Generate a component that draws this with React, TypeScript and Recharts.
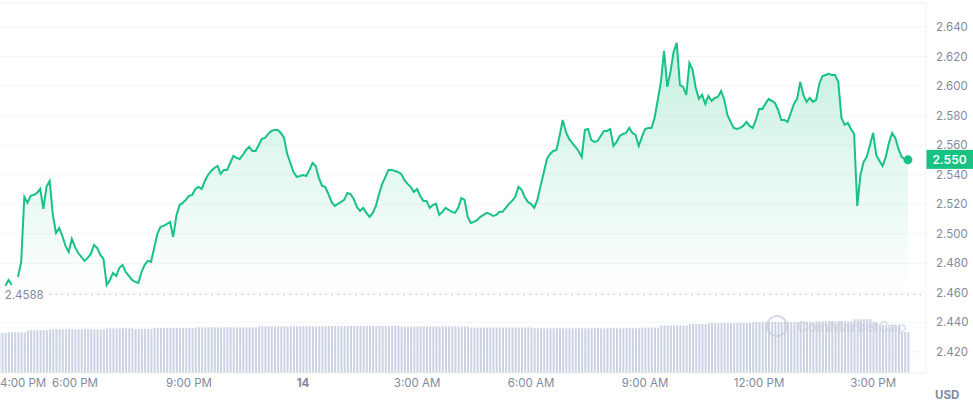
import {
  Area,
  Bar,
  CartesianGrid,
  ComposedChart,
  ReferenceDot,
  ReferenceLine,
  XAxis,
  YAxis,
} from "recharts";

const GREEN = "#18c283";
const GREY = "#808a9d";
const FONT = "Inter, 'Noto Sans', sans-serif";

const BASELINE = 2.4588;
const LAST_PRICE = 2.55;

// one value every 5 minutes, starting at 4:00 PM
const PRICES: (number | null)[] = [
  null, null, 2.4647, 2.4687, 2.4653, null, 2.4708, 2.4809, 2.5249, 2.5209,
  2.5256, 2.5263, 2.5276, 2.5303, 2.5168, 2.5317, 2.5357, 2.5127, 2.5005, 2.5039,
  2.4985, 2.4917, 2.4877, 2.4965, 2.4911, 2.487, 2.4843, 2.4816, 2.4836, 2.4863,
  2.4924, 2.4904, 2.4856, 2.4829, 2.4653, 2.4687, 2.4735, 2.4714, 2.4768, 2.4789,
  2.4741, 2.4714, 2.4687, 2.4674, 2.4667, 2.4741, 2.4789, 2.4816, 2.4809, 2.4904,
  2.4999, 2.5046, 2.5053, 2.5066, 2.508, 2.4978, 2.512, 2.5195, 2.5209, 2.5229,
  2.5256, 2.5263, 2.5303, 2.5317, 2.5303, 2.5357, 2.5398, 2.5425, 2.5445, 2.5459,
  2.5405, 2.5432, 2.5432, 2.5479, 2.5527, 2.5513, 2.5506, 2.5533, 2.5567, 2.5588,
  2.556, 2.556, 2.5601, 2.5642, 2.5649, 2.5676, 2.5696, 2.5703, 2.5703, 2.5682,
  2.5649, 2.554, 2.5479, 2.5418, 2.5385, 2.5391, 2.5398, 2.5391, 2.5432, 2.5479,
  2.5459, 2.5378, 2.5324, 2.5317, 2.5269, 2.5215, 2.5188, 2.5202, 2.5215, 2.5229,
  2.5276, 2.5269, 2.5236, 2.5181, 2.5154, 2.5175, 2.5141, 2.5114, 2.5141, 2.5188,
  2.5269, 2.5337, 2.5385, 2.5432, 2.5432, 2.5425, 2.5418, 2.5405, 2.5364, 2.5337,
  2.5317, 2.5283, 2.5303, 2.5256, 2.5222, 2.5222, 2.5175, 2.5195, 2.5202, 2.5127,
  2.5148, 2.5175, 2.5161, 2.5148, 2.5141, 2.5175, 2.5242, 2.5229, 2.5114, 2.5073,
  2.508, 2.5093, 2.5114, 2.5127, 2.5141, 2.5134, 2.512, 2.5127, 2.5148, 2.5148,
  2.5175, 2.5202, 2.5222, 2.5249, 2.5317, 2.5297, 2.5249, 2.5215, 2.5202, 2.5175,
  2.5229, 2.5324, 2.5412, 2.5506, 2.554, 2.556, 2.5567, 2.5662, 2.577, 2.5689,
  2.5642, 2.5615, 2.5588, 2.556, 2.552, 2.5703, 2.5709, 2.5635, 2.5622, 2.5628,
  2.5662, 2.5696, 2.5696, 2.5709, 2.5594, 2.5622, 2.5662, 2.5676, 2.5682, 2.5716,
  2.5682, 2.5669, 2.5594, 2.5655, 2.5709, 2.5716, 2.5716, 2.5784, 2.5906, 2.6028,
  2.6238, 2.5994, 2.6095, 2.6231, 2.6292, 2.6007, 2.5994, 2.594, 2.6156, 2.6109,
  2.5987, 2.5913, 2.594, 2.5879, 2.5933, 2.5899, 2.5919, 2.5926, 2.5967, 2.5906,
  2.5804, 2.5757, 2.5716, 2.5709, 2.5716, 2.573, 2.5757, 2.573, 2.5716, 2.577,
  2.5845, 2.5845, 2.5879, 2.5913, 2.5899, 2.5885, 2.5838, 2.577, 2.577, 2.5757,
  2.5818, 2.5879, 2.5913, 2.6028, 2.594, 2.5892, 2.5919, 2.5892, 2.5906, 2.6014,
  2.6068, 2.6075, 2.6082, 2.6075, 2.6075, 2.6028, 2.5784, 2.5737, 2.575, 2.5709,
  2.5676, 2.5188, 2.5398, 2.5486, 2.552, 2.5601, 2.5682, 2.5533, 2.5493, 2.5459,
  2.552, 2.5615, 2.5682, 2.5649, 2.5574, 2.552, 2.5506, 2.55,
];

// 24h volume in billions, same 5 minute steps
const VOLUMES: number[] = [
  4.0, 4.0, 4.0, 4.07, 4.07, 4.07, 4.07, 4.07, 4.07, 4.27,
  4.27, 4.27, 4.27, 4.27, 4.27, 4.27, 4.37, 4.37, 4.37, 4.37,
  4.37, 4.37, 4.37, 4.37, 4.37, 4.37, 4.37, 4.37, 4.37, 4.37,
  4.37, 4.37, 4.37, 4.37, 4.47, 4.47, 4.47, 4.47, 4.47, 4.47,
  4.47, 4.47, 4.47, 4.4, 4.4, 4.4, 4.4, 4.4, 4.4, 4.5,
  4.5, 4.5, 4.5, 4.5, 4.5, 4.5, 4.5, 4.5, 4.5, 4.5,
  4.5, 4.5, 4.57, 4.57, 4.57, 4.57, 4.57, 4.57, 4.57, 4.57,
  4.57, 4.57, 4.57, 4.57, 4.57, 4.57, 4.57, 4.57, 4.57, 4.57,
  4.57, 4.57, 4.67, 4.67, 4.67, 4.67, 4.67, 4.67, 4.67, 4.67,
  4.67, 4.67, 4.67, 4.67, 4.67, 4.67, 4.67, 4.67, 4.67, 4.67,
  4.67, 4.67, 4.67, 4.67, 4.67, 4.7, 4.7, 4.7, 4.7, 4.7,
  4.7, 4.7, 4.7, 4.7, 4.7, 4.7, 4.7, 4.7, 4.7, 4.7,
  4.7, 4.7, 4.7, 4.7, 4.7, 4.7, 4.7, 4.65, 4.65, 4.65,
  4.65, 4.65, 4.65, 4.65, 4.65, 4.65, 4.65, 4.65, 4.65, 4.65,
  4.65, 4.65, 4.65, 4.65, 4.65, 4.65, 4.65, 4.65, 4.65, 4.55,
  4.55, 4.55, 4.55, 4.55, 4.55, 4.55, 4.55, 4.55, 4.55, 4.55,
  4.55, 4.55, 4.55, 4.55, 4.55, 4.55, 4.55, 4.55, 4.55, 4.48,
  4.48, 4.48, 4.48, 4.48, 4.48, 4.48, 4.48, 4.48, 4.48, 4.48,
  4.48, 4.48, 4.48, 4.48, 4.48, 4.48, 4.48, 4.48, 4.48, 4.48,
  4.48, 4.48, 4.48, 4.48, 4.48, 4.48, 4.48, 4.48, 4.48, 4.48,
  4.48, 4.48, 4.48, 4.55, 4.55, 4.55, 4.55, 4.55, 4.55, 4.75,
  4.75, 4.75, 4.75, 4.75, 4.75, 4.75, 4.75, 4.75, 4.9, 4.9,
  4.9, 4.9, 4.9, 4.9, 5.0, 5.0, 5.0, 5.0, 5.0, 5.0,
  5.0, 5.0, 5.0, 5.0, 5.0, 5.0, 5.0, 5.0, 5.1, 5.1,
  5.1, 5.1, 5.1, 5.1, 5.1, 5.1, 5.1, 5.1, 5.1, 5.1,
  5.1, 5.1, 5.1, 5.1, 5.1, 5.1, 5.1, 5.1, 5.1, 5.1,
  5.17, 5.17, 5.17, 5.17, 5.17, 5.17, 5.17, 5.17, 5.17, 5.17,
  5.37, 5.37, 5.37, 5.37, 5.37, 5.37, 5.07, 5.07, 4.8, 4.8,
  4.8, 4.8, 4.8, 4.8, 4.7, 4.1, 4.1, 4.1,
];

const TIME_TICKS = [0, 24, 60, 96, 132, 168, 204, 240, 276];
const TIME_LABELS = ["4:00 PM", "6:00 PM", "9:00 PM", "14", "3:00 AM", "6:00 AM", "9:00 AM", "12:00 PM", "3:00 PM"];
const PRICE_TICKS = [2.42, 2.44, 2.46, 2.48, 2.5, 2.52, 2.54, 2.56, 2.58, 2.6, 2.62, 2.64];

const rows = PRICES.map((price, t) => ({ t, price, volume: VOLUMES[t] }));

function TimeTick({ x, y, payload }: any) {
  const i = TIME_TICKS.indexOf(payload.value);
  const label = TIME_LABELS[i];
  const first = i === 0;
  return (
    <text
      x={first ? 0 : x}
      y={y}
      dy={4}
      textAnchor={first ? "start" : "middle"}
      fontFamily={FONT}
      fontSize={11.5}
      fontWeight={label === "14" ? 700 : 400}
      fill={GREY}
    >
      {label}
    </text>
  );
}

function PriceTag({ viewBox }: any) {
  const right = viewBox.x + viewBox.width;
  return (
    <g>
      <rect x={right} y={viewBox.y - 10} width={47} height={19} fill={GREEN} />
      <text
        x={right + 23.5}
        y={viewBox.y + 4}
        textAnchor="middle"
        fontFamily={FONT}
        fontSize={12}
        fontWeight={600}
        fill="#fff"
      >
        {LAST_PRICE.toFixed(3)}
      </text>
    </g>
  );
}

export default function App() {
  return (
    <div style={{ position: "absolute", left: 0, top: 0, width: 973, height: 407, background: "#fff" }}>
      <ComposedChart
        width={973}
        height={407}
        data={rows}
        margin={{ top: 3, right: 0, bottom: 0, left: -1 }}
      >
        <defs>
          <linearGradient id="priceFill" x1="0" y1="0" x2="0" y2="1">
            <stop offset="0%" stopColor={GREEN} stopOpacity={0.4} />
            <stop offset="100%" stopColor={GREEN} stopOpacity={0} />
          </linearGradient>
        </defs>
        <CartesianGrid vertical={false} stroke="#f3f5f8" />
        <XAxis
          dataKey="t"
          type="number"
          domain={[0, 292.7]}
          ticks={TIME_TICKS}
          interval={0}
          tick={<TimeTick />}
          tickLine={false}
          axisLine={{ stroke: "#eff2f5" }}
          height={34}
          tickSize={0}
          tickMargin={10}
        />
        <YAxis
          orientation="right"
          type="number"
          domain={[2.4057, 2.6562]}
          ticks={PRICE_TICKS}
          interval={0}
          tickFormatter={(v: number) => v.toFixed(3)}
          tick={{ fill: GREY, fontSize: 11.5, fontFamily: FONT }}
          tickLine={false}
          axisLine={{ stroke: "#eff2f5" }}
          width={47}
          tickSize={0}
          tickMargin={10}
          allowDataOverflow
        />
        <YAxis yAxisId="vol" hide type="number" domain={[0, 37]} />
        <ReferenceLine y={2.6562} stroke="#eff2f5" />
        <Bar
          yAxisId="vol"
          dataKey="volume"
          fill="#cbd2e1"
          barSize={2}
          isAnimationActive={false}
        />
        <Area
          dataKey="price"
          type="linear"
          baseValue={BASELINE}
          stroke={GREEN}
          strokeWidth={2}
          fill="url(#priceFill)"
          dot={false}
          activeDot={false}
          isAnimationActive={false}
        />
        <ReferenceLine
          segment={[
            { x: 16, y: BASELINE },
            { x: 291, y: BASELINE },
          ]}
          stroke="#858ca2"
          strokeDasharray="1 5"
          label={{ value: BASELINE.toString(), position: "left", offset: 6, fill: GREY, fontSize: 11.5, fontFamily: FONT }}
        />
        <ReferenceLine y={LAST_PRICE} stroke="none" label={<PriceTag />} />
        <ReferenceDot x={287} y={LAST_PRICE} r={4.5} fill={GREEN} stroke="none" />
      </ComposedChart>

      <svg width={973} height={407} style={{ position: "absolute", left: 0, top: 0, pointerEvents: "none" }}>
        <circle cx={777} cy={326} r={10} fill="none" stroke="#c4cbdb" strokeWidth={2} opacity={0.7} />
        <text x={797} y={332} fontFamily={FONT} fontSize={14.5} fontWeight={600} fill="#c4cbdb" opacity={0.55}>
          CoinMarketCap
        </text>
        <text x={935} y={399} fontFamily={FONT} fontSize={11.5} fontWeight={700} fill={GREY}>
          USD
        </text>
      </svg>
    </div>
  );
}
